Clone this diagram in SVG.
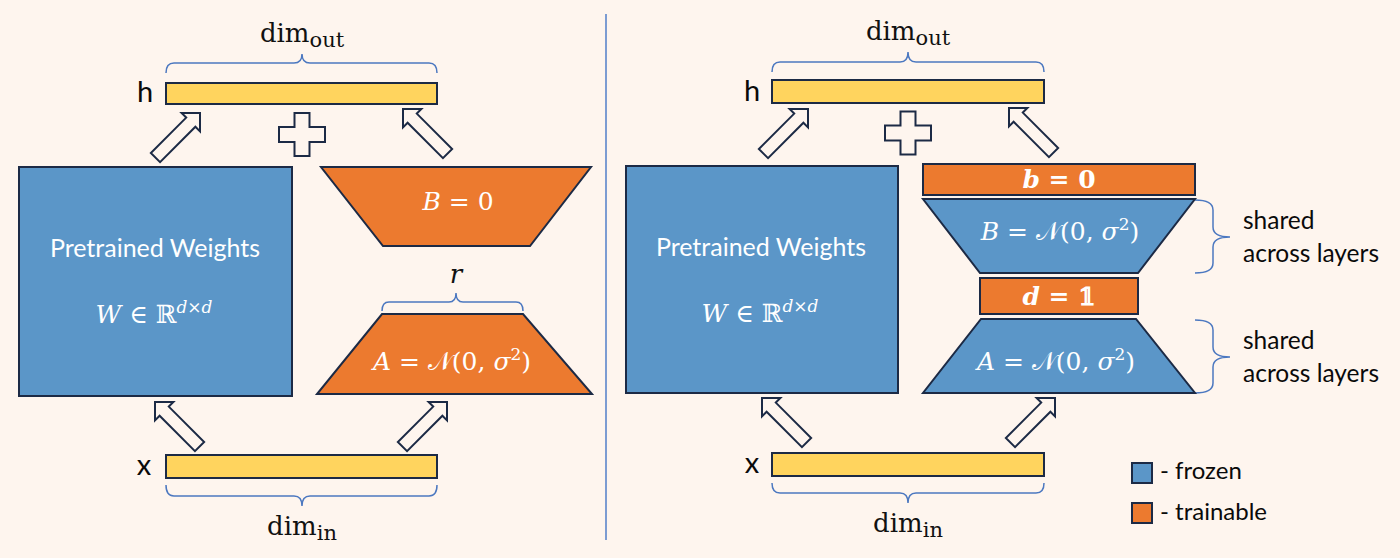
<svg xmlns="http://www.w3.org/2000/svg" width="1400" height="558" viewBox="0 0 1400 558">
<defs>
<style>
.bg{fill:#FEF5EE}
.vec{fill:#FFD45E;stroke:#1C2A45;stroke-width:2}
.frozen{fill:#5B96C8;stroke:#1C2A45;stroke-width:2}
.train{fill:#EC7A2F;stroke:#1C2A45;stroke-width:2}
.arrow{fill:#FEF5EE;stroke:#1C2A45;stroke-width:2;stroke-linejoin:miter}
.brace{fill:none;stroke:#4C78C0;stroke-width:1.5}
.sans{font-family:Lato,"Open Sans","Liberation Sans",sans-serif;fill:#0A0A0A}
.wsans{font-family:Lato,"Open Sans","Liberation Sans",sans-serif;fill:#FFFFFF}
.math{font-family:"DejaVu Serif","Liberation Serif",serif;fill:#FFFFFF;font-size:25px}
.lbl{font-family:"DejaVu Serif","Liberation Serif",serif;fill:#111;font-size:26px}
.it{font-style:italic}
</style>
<path id="arr" d="M0,0 L13,13 L6.5,13 L6.5,63 L-6.5,63 L-6.5,13 L-13,13 Z"/>
<path id="plus" d="M-7.5,-21.5 H7.5 V-7.5 H23 V7.5 H7.5 V21.5 H-7.5 V7.5 H-23 V-7.5 H-7.5 Z"/>
</defs>
<rect class="bg" x="0" y="0" width="1400" height="558"/>
<line x1="606" y1="14" x2="606" y2="540" stroke="#7C9CD2" stroke-width="2"/>

<g id="connectors">
<use href="#arr" class="arrow" transform="translate(200,113) rotate(45)"/>
<use href="#arr" class="arrow" transform="translate(403,109) rotate(-45)"/>
<use href="#arr" class="arrow" transform="translate(155,402) rotate(-45)"/>
<use href="#arr" class="arrow" transform="translate(447,402) rotate(45)"/>
<use href="#arr" class="arrow" transform="translate(808,109) rotate(45)"/>
<use href="#arr" class="arrow" transform="translate(1009,108) rotate(-45)"/>
<use href="#arr" class="arrow" transform="translate(762,398) rotate(-45)"/>
<use href="#arr" class="arrow" transform="translate(1055,398) rotate(45)"/>
</g>

<g id="braces">
<path class="brace" d="M166,73 Q166,63 174,63 H294 Q302,63 302,54 Q302,63 310,63 H429 Q437,63 437,73"/>
<path class="brace" d="M166,485 Q166,496 174,496 H294 Q302,496 302,506 Q302,496 310,496 H429 Q437,496 437,485"/>
<path class="brace" d="M382,311 Q382,302 389,302 H449 Q456,302 456,293 Q456,302 463,302 H516 Q523,302 523,311"/>
<path class="brace" d="M772,72 Q772,62 780,62 H900 Q908,62 908,52 Q908,62 916,62 H1036 Q1044,62 1044,72"/>
<path class="brace" d="M772,483 Q772,493 780,493 H900 Q908,493 908,503 Q908,493 916,493 H1036 Q1044,493 1044,483"/>
<path class="brace" d="M1195,200 Q1213,200 1213,210 V227 Q1213,237 1230,237 Q1213,237 1213,247 V263 Q1213,273 1195,273"/>
<path class="brace" d="M1195,320 Q1213,320 1213,330 V347 Q1213,357 1230,357 Q1213,357 1213,367 V383 Q1213,393 1195,393"/>
</g>

<!-- LEFT PANEL -->
<g id="dimout-left"><text class="lbl" x="302" y="42" text-anchor="middle">dim<tspan dy="5" font-size="21">out</tspan></text></g>
<g id="h-left">
<rect class="vec" x="166" y="83" width="271" height="21"/>
<text class="sans" x="145" y="102" text-anchor="middle" font-size="29">h</text>
</g>
<g id="plus-left"><use href="#plus" class="arrow" transform="translate(302,134.5)"/></g>
<g id="W-left">
<rect class="frozen" x="19" y="167" width="273" height="229"/>
<text class="wsans" x="155" y="257" text-anchor="middle" font-size="25">Pretrained Weights</text>
<text class="math" x="154" y="323" text-anchor="middle"><tspan class="it">W</tspan> ∈ ℝ<tspan dy="-10" font-size="17" class="it">d</tspan><tspan font-size="17">×</tspan><tspan font-size="17" class="it">d</tspan></text>
</g>
<g id="B-left">
<polygon class="train" points="321,167 591,167 530,246 383,246"/>
<text class="math" x="458" y="210" text-anchor="middle"><tspan class="it">B</tspan> = 0</text>
</g>
<g id="r-left"><text class="lbl it" x="456" y="283" text-anchor="middle">r</text></g>
<g id="A-left">
<polygon class="train" points="382,314 523,314 592,394 317,394"/>
<text class="math" x="452" y="370" text-anchor="middle"><tspan class="it">A</tspan> = 𝒩(0, <tspan class="it">σ</tspan><tspan dy="-10" font-size="17">2</tspan><tspan dy="10">)</tspan></text>
</g>
<g id="x-left">
<rect class="vec" x="166" y="455" width="271" height="23"/>
<text class="sans" x="144" y="475" text-anchor="middle" font-size="29">x</text>
</g>
<g id="dimin-left"><text class="lbl" x="302" y="535" text-anchor="middle">dim<tspan dy="5" font-size="21">in</tspan></text></g>

<!-- RIGHT PANEL -->
<g id="dimout-right"><text class="lbl" x="908" y="40" text-anchor="middle">dim<tspan dy="5" font-size="21">out</tspan></text></g>
<g id="h-right">
<rect class="vec" x="772" y="80" width="272" height="23"/>
<text class="sans" x="752" y="101" text-anchor="middle" font-size="29">h</text>
</g>
<g id="plus-right"><use href="#plus" class="arrow" transform="translate(908,133)"/></g>
<g id="W-right">
<rect class="frozen" x="626" y="166" width="272" height="227"/>
<text class="wsans" x="761" y="256" text-anchor="middle" font-size="25">Pretrained Weights</text>
<text class="math" x="760" y="322" text-anchor="middle"><tspan class="it">W</tspan> ∈ ℝ<tspan dy="-10" font-size="17" class="it">d</tspan><tspan font-size="17">×</tspan><tspan font-size="17" class="it">d</tspan></text>
</g>
<g id="b-right">
<rect class="train" x="923" y="164" width="272" height="31"/>
<text class="math" x="1059" y="188" text-anchor="middle" font-weight="bold"><tspan class="it">b</tspan> = 0</text>
</g>
<g id="B-right">
<polygon class="frozen" points="923,199 1195,199 1138,273 980,273"/>
<text class="math" x="1060" y="240" text-anchor="middle"><tspan class="it">B</tspan> = 𝒩(0, <tspan class="it">σ</tspan><tspan dy="-10" font-size="17">2</tspan><tspan dy="10">)</tspan></text>
</g>
<g id="d-right">
<rect class="train" x="980" y="278" width="158" height="36"/>
<text class="math" x="1059" y="305" text-anchor="middle" font-weight="bold"><tspan class="it">d</tspan> = 𝟙</text>
</g>
<g id="A-right">
<polygon class="frozen" points="981,319 1136,319 1195,393 923,393"/>
<text class="math" x="1056" y="370" text-anchor="middle"><tspan class="it">A</tspan> = 𝒩(0, <tspan class="it">σ</tspan><tspan dy="-10" font-size="17">2</tspan><tspan dy="10">)</tspan></text>
</g>
<g id="shared-1"><text class="sans" x="1243" y="229" font-size="24.5">shared<tspan x="1243" y="262">across layers</tspan></text></g>
<g id="shared-2"><text class="sans" x="1243" y="349" font-size="24.5">shared<tspan x="1243" y="382">across layers</tspan></text></g>
<g id="x-right">
<rect class="vec" x="772" y="453" width="272" height="23"/>
<text class="sans" x="752" y="473" text-anchor="middle" font-size="29">x</text>
</g>
<g id="dimin-right"><text class="lbl" x="908" y="532" text-anchor="middle">dim<tspan dy="5" font-size="21">in</tspan></text></g>

<g id="legend">
<rect class="frozen" x="1132" y="463" width="20" height="20"/>
<text class="sans" x="1160" y="479" font-size="24">- frozen</text>
<rect class="train" x="1132" y="503" width="20" height="20"/>
<text class="sans" x="1160" y="520" font-size="24">- trainable</text>
</g>
</svg>
